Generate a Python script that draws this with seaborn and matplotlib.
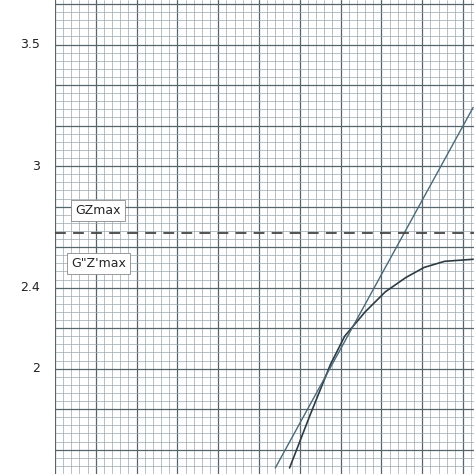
import numpy as np
import matplotlib
matplotlib.use("Agg")
import matplotlib.pyplot as plt
import seaborn as sns
from matplotlib.ticker import MultipleLocator

# values
curve_x = [1.15, 1.25, 1.35, 1.42, 1.52, 1.62, 1.72, 1.81, 1.91, 2.05]
curve_y = [1.51, 1.77, 2.02, 2.16, 2.28, 2.38, 2.45, 2.50, 2.53, 2.54]
tangent_x = [1.08, 2.05]
tangent_y = [1.51, 3.29]
gz_max = 2.67
ytick_vals = [2, 2.4, 3, 3.6]
ytick_labels = ["2", "2.4", "3", "3.5"]

sns.set_style("white")
fig = plt.figure(figsize=(4.74, 4.74), dpi=100)
ax = fig.add_axes([0.116, 0, 0.884, 1])

ax.set_xlim(0, 2.054)
ax.set_ylim(1.48, 3.82)

ax.xaxis.set_major_locator(MultipleLocator(0.2))
ax.xaxis.set_minor_locator(MultipleLocator(0.04))
ax.yaxis.set_major_locator(MultipleLocator(0.2))
ax.yaxis.set_minor_locator(MultipleLocator(0.04))
ax.grid(which="major", color="#56646c", lw=0.9)
ax.grid(which="minor", color="#9aa6ac", lw=0.5)
ax.set_axisbelow(True)
ax.tick_params(which="both", length=0, labelbottom=False, labelleft=False)
for s in ax.spines.values():
    s.set_visible(False)
ax.axvline(0, color="#56646c", lw=1.2)

sns.lineplot(x=curve_x, y=curve_y, ax=ax, color="#2d3b44", lw=1.2)
sns.lineplot(x=tangent_x, y=tangent_y, ax=ax, color="#4a6a7a", lw=1.0)
ax.axhline(gz_max, color="#444444", lw=1.3, ls=(0, (6, 4)))

for v, lab in zip(ytick_vals, ytick_labels):
    fig.text(0.085, (v - 1.48) / (3.82 - 1.48), lab, ha="right", va="center",
             fontsize=9, color="#222222")

ax.text(0.1, 2.78, "GZmax", fontsize=9, va="center",
        bbox=dict(facecolor="white", edgecolor="#888888", lw=0.6, pad=3))
ax.text(0.08, 2.52, "G\"Z'max", fontsize=9, va="center",
        bbox=dict(facecolor="white", edgecolor="#888888", lw=0.6, pad=3))

fig.savefig("out.png", dpi=100)
